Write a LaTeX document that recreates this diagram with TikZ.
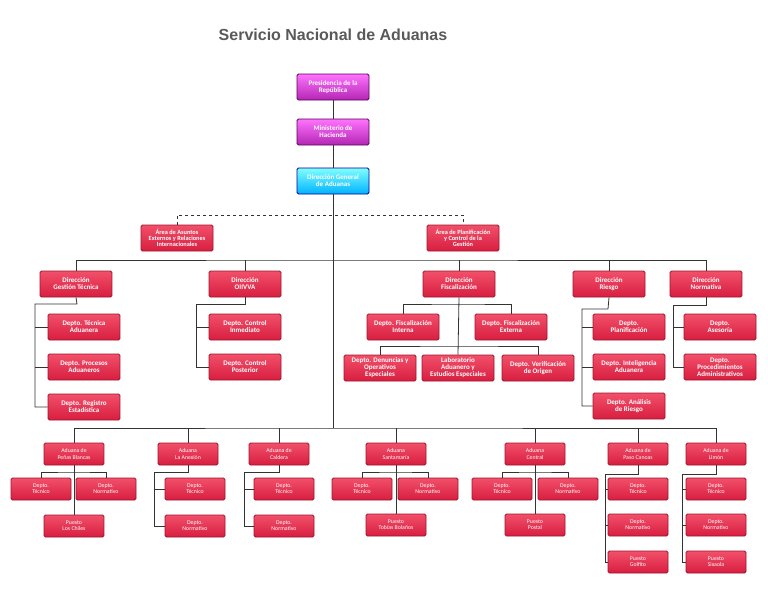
\documentclass[tikz,border=0pt]{standalone}
\usepackage{fontspec}
\setmainfont{Carlito}
\newfontfamily\titlefont{Liberation Sans}
\definecolor{rtop}{HTML}{F2506A}
\definecolor{rbot}{HTML}{D81E40}
\definecolor{rbrd}{HTML}{A0142C}
\begin{document}
\begin{tikzpicture}[x=1pt,y=-1pt,
 box/.style={draw=rbrd,line width=0.9pt,rounded corners=1.5pt,top color=rtop,bottom color=rbot,text=white,align=center,font=\fontsize{7}{7}\selectfont\bfseries,minimum width=72pt,minimum height=26pt,inner sep=1pt},
 mag/.style={box,draw=violet!70!black,top color=magenta!55!white,bottom color=magenta!65!black!85!white},
 blu/.style={box,draw=blue!60!black,top color=cyan!50!white,bottom color=cyan!70!blue},
 sbox/.style={box,minimum width=60pt,minimum height=22pt,font=\fontsize{5.8}{6.3}\selectfont},
 ln/.style={draw=black!80,line width=0.8pt}]
\useasboundingbox (0,0) rectangle (768,594);
\node[text=black!65,font=\titlefont\fontsize{16}{16}\selectfont\bfseries] (title) at (333,35) {Servicio Nacional de Aduanas};
\node[mag] (pres) at (333,87) {Presidencia de la\\República};
\node[mag] (min) at (333,132) {Ministerio de\\Hacienda};
\node[blu] (dga) at (333,181) {Dirección General\\de Aduanas};
\node[box,font=\fontsize{6.3}{6.3}\selectfont\bfseries] (aae) at (177,238) {Área de Asuntos\\Externos y Relaciones\\Internacionales};
\node[box,font=\fontsize{6.3}{6.3}\selectfont\bfseries] (apc) at (463,238) {Área de Planificación\\y Control de la\\Gestión};
\coordinate (dl) at (177,215); \coordinate (dr) at (463,215);
\draw[ln,dashed] (aae.north) -- (dl) -- (dr) -- (apc.north);
\draw[ln] (pres) -- (min) -- (dga);
\coordinate (trunkb) at (333,428);
\draw[ln] (dga.south) -- (trunkb);
% directions
\node[box] (dgt) at (76,284) {Dirección\\Gestión Técnica};
\node[box] (dov) at (245,284) {Dirección\\OIIVVA};
\node[box] (dfi) at (459,284) {Dirección\\Fiscalización};
\node[box] (dri) at (609,284) {Dirección\\Riesgo};
\node[box] (dno) at (706,284) {Dirección\\Normativa};
\draw[ln] (dgt.north) |- (333,260) -| (dno.north);
\foreach \n in {dov,dfi,dri} \draw[ln] (\n.north) -- (\n.north |- 0,260);
% Gestion tecnica
\node[box] (g1) at (84,327) {Depto. Técnica\\Aduanera};
\node[box] (g2) at (84,367) {Depto. Procesos\\Aduaneros};
\node[box] (g3) at (84,407) {Depto. Registro\\Estadística};
\draw[ln] (dgt.south) -- (77,304) -| (35,407) -- (g3.west);
\draw[ln] (35,327) -- (g1.west); \draw[ln] (35,367) -- (g2.west);
% OIIVVA
\node[box] (o1) at (245,327) {Depto. Control\\Inmediato};
\node[box] (o2) at (245,367) {Depto. Control\\Posterior};
\draw[ln] (dov.south) -- (245,304) -| (196,367) -- (o2.west);
\draw[ln] (196,327) -- (o1.west);
% Fiscalizacion
\node[box] (f1) at (403,327) {Depto. Fiscalización\\Interna};
\node[box] (f2) at (511,327) {Depto. Fiscalización\\Externa};
\node[box] (f3) at (380,368) {Depto. Denuncias y\\Operativos\\Especiales};
\node[box] (f4) at (458,368) {Laboratorio\\Aduanero y\\Estudios Especiales};
\node[box] (f5) at (538,368) {Depto. Verificación\\de Origen};
\draw[ln] (dfi.south) -- (f4.north);
\draw[ln] (f1.north) |- (459,304) -| (f2.north);
\draw[ln] (f3.north) |- (459,346) -| (f5.north);
% Riesgo
\node[box] (r1) at (629,327) {Depto.\\Planificación};
\node[box] (r2) at (629,367) {Depto. Inteligencia\\Aduanera};
\node[box] (r3) at (629,406) {Depto. Análisis\\de Riesgo};
\draw[ln] (dri.south) -- (608,309) -| (582,406) -- (r3.west);
\draw[ln] (582,327) -- (r1.west); \draw[ln] (582,367) -- (r2.west);
% Normativa
\node[box] (n1) at (720,327) {Depto.\\Asesoría};
\node[box] (n2) at (720,367) {Depto.\\Procedimientos\\Administrativos};
\draw[ln] (dno.south) -- (706,305) -| (673,367) -- (n2.west);
\draw[ln] (673,327) -- (n1.west);
% Aduanas
\node[sbox] (a1) at (74,454) {Aduana de\\Peñas Blancas};
\node[sbox] (a2) at (188,454) {Aduana\\La Anexión};
\node[sbox] (a3) at (279,454) {Aduana de\\Caldera};
\node[sbox] (a4) at (396,454) {Aduana\\Santamaría};
\node[sbox] (a5) at (535,454) {Aduana\\Central};
\node[sbox] (a6) at (638,454) {Aduana de\\Paso Canoas};
\node[sbox] (a7) at (716,454) {Aduana de\\Limón};
\draw[ln] (a1.north) |- (trunkb) -| (a7.north);
\foreach \n in {a2,a3,a4,a5,a6} \draw[ln] (\n.north) -- (\n.north |- 0,428);
% Peñas Blancas
\node[sbox] (a1t) at (41,489) {Depto.\\Técnico};
\node[sbox] (a1n) at (106,489) {Depto.\\Normativo};
\node[sbox] (a1p) at (74,526) {Puesto\\Los Chiles};
\draw[ln] (a1.south) -- (a1p.north);
\draw[ln] (a1t.north) |- (74,472) -| (a1n.north);
% La Anexion
\node[sbox] (a2t) at (195,489) {Depto.\\Técnico};
\node[sbox] (a2n) at (195,526) {Depto.\\Normativo};
\draw[ln] (a2.south) -- (188,472) -| (154,526) -- (a2n.west);
\draw[ln] (154,489) -- (a2t.west);
% Caldera
\node[sbox] (a3t) at (284,489) {Depto.\\Técnico};
\node[sbox] (a3n) at (284,526) {Depto.\\Normativo};
\draw[ln] (a3.south) -- (279,472) -| (244,526) -- (a3n.west);
\draw[ln] (244,489) -- (a3t.west);
% Santamaria
\node[sbox] (a4t) at (362,489) {Depto.\\Técnico};
\node[sbox] (a4n) at (428,489) {Depto.\\Normativo};
\node[sbox] (a4p) at (396,525) {Puesto\\Tobías Bolaños};
\draw[ln] (a4.south) -- (a4p.north);
\draw[ln] (a4t.north) |- (396,472) -| (a4n.north);
% Central
\node[sbox] (a5t) at (502,489) {Depto.\\Técnico};
\node[sbox] (a5n) at (568,489) {Depto.\\Normativo};
\node[sbox] (a5p) at (535,525) {Puesto\\Postal};
\draw[ln] (a5.south) -- (a5p.north);
\draw[ln] (a5t.north) |- (535,472) -| (a5n.north);
% Paso Canoas
\node[sbox] (a6t) at (638,489) {Depto.\\Técnico};
\node[sbox] (a6n) at (638,525) {Depto.\\Normativo};
\node[sbox] (a6p) at (638,562) {Puesto\\Golfito};
\draw[ln] (a6.south) -- (638,474) -| (605,562) -- (a6p.west);
\draw[ln] (605,489) -- (a6t.west); \draw[ln] (605,525) -- (a6n.west);
% Limon
\node[sbox] (a7t) at (716,489) {Depto.\\Técnico};
\node[sbox] (a7n) at (716,525) {Depto.\\Normativo};
\node[sbox] (a7p) at (716,562) {Puesto\\Sixaola};
\draw[ln] (a7.south) -- (716,474) -| (682,562) -- (a7p.west);
\draw[ln] (682,489) -- (a7t.west); \draw[ln] (682,525) -- (a7n.west);
\end{tikzpicture}
\end{document}
